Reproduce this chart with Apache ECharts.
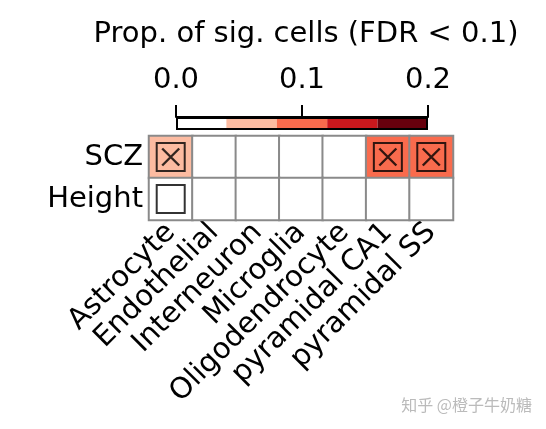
<!DOCTYPE html><html><head><meta charset="utf-8"><script src="https://cdn.jsdelivr.net/npm/echarts@6/dist/echarts.min.js"></script></head><body style="margin:0"><div id="c" style="width:546px;height:429px"></div><script>
const cellTypes=['Astrocyte','Endothelial','Interneuron','Microglia','Oligodendrocyte','pyramidal CA1','pyramidal SS'];
const traits=['SCZ','Height'];
const sczProp=[0.06,0,0,0,0,0.1,0.1];
const heightProp=[0,0,0,0,0,0,0];
const sczSig=[1,0,0,0,0,1,1];
const heightTested=[1,0,0,0,0,0,0];
const heightSig=[0,0,0,0,0,0,0];
const binEdges=[0,0.04,0.08,0.12,0.16,0.2];
const binColors=['#ffffff','#fcbba1','#f96b4d','#cb181d','#67000d'];
const colorTicks=[0,0.1,0.2];
const font='DejaVu Sans';
function col(v){for(let i=binEdges.length-2;i>=0;i--) if(v>=binEdges[i]-1e-9) return binColors[i];return binColors[0];}
const heat=[];
[sczProp,heightProp].forEach((arr,r)=>arr.forEach((v,i)=>heat.push({value:[i,r,v],itemStyle:{color:col(v)}})));
const boxes=[],xs=[];
sczSig.forEach((s,i)=>{if(s){boxes.push([i,0]);xs.push([i,0]);}});
heightTested.forEach((s,i)=>{if(s)boxes.push([i,1]);});
heightSig.forEach((s,i)=>{if(s)xs.push([i,1]);});
const bars=binColors.map((c,k)=>({type:'bar',stack:'cb',xAxisIndex:1,yAxisIndex:1,data:[binEdges[k+1]-binEdges[k]],barWidth:'100%',itemStyle:{color:c},silent:true}));
const ch=echarts.init(document.getElementById('c'));
ch.setOption({animation:false,
title:{text:'Prop. of sig. cells (FDR < 0.1)',left:301,top:15,textAlign:'center',textStyle:{fontFamily:font,fontWeight:'normal',fontSize:29,color:'#000'}},
grid:[{left:149,top:136,width:304,height:84},{left:176,top:117,width:252,height:13}],
xAxis:[{type:'category',data:cellTypes,gridIndex:0,axisLine:{show:false},axisTick:{show:false},axisLabel:{rotate:45,fontFamily:font,fontSize:29,color:'#000',interval:0,margin:8}},
{type:'value',gridIndex:1,min:0,max:0.2,interval:0.1,position:'top',axisLine:{show:true,lineStyle:{color:'#000',width:2}},axisTick:{show:true,length:12,lineStyle:{color:'#000',width:2}},splitLine:{show:false},axisLabel:{fontFamily:font,fontSize:29,color:'#000',margin:22,formatter:v=>v.toFixed(1)}}],
yAxis:[{type:'category',data:traits,inverse:true,gridIndex:0,axisLine:{show:false},axisTick:{show:false},axisLabel:{fontFamily:font,fontSize:29,color:'#000',margin:6}},
{type:'category',data:['c'],gridIndex:1,show:false}],
series:[{type:'heatmap',data:heat,itemStyle:{borderColor:'#8a8a8a',borderWidth:2}},
{type:'scatter',data:boxes,symbol:'rect',symbolSize:28,itemStyle:{color:'rgba(0,0,0,0)',borderColor:'#000',borderWidth:2},z:5},
{type:'scatter',data:xs,symbol:'path://M0,0L10,10M10,0L0,10',symbolSize:17,itemStyle:{color:'none',borderColor:'#000',borderWidth:2.4},z:6},
...bars,
{type:'bar',xAxisIndex:1,yAxisIndex:1,data:[0.2],barWidth:'100%',barGap:'-100%',itemStyle:{color:'rgba(0,0,0,0)',borderColor:'#000',borderWidth:2},z:3,silent:true}],
graphic:[{type:'text',right:14,bottom:16,style:{text:'知乎 @橙子牛奶糖',fill:'#bbb',font:'16px "Noto Sans CJK SC"'}}]
});
</script></body></html>
